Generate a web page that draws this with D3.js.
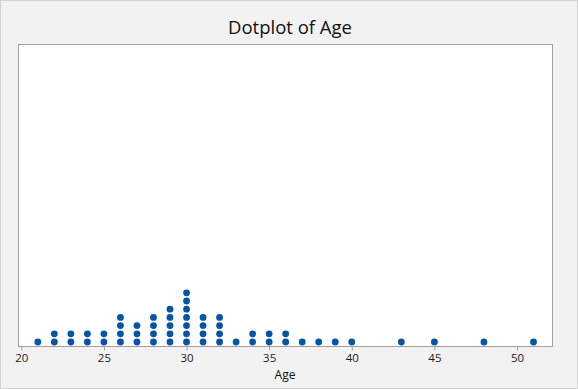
<!DOCTYPE html>
<html>
<head>
<meta charset="utf-8">
<script src="https://cdn.jsdelivr.net/npm/d3@7"></script>
<style>
  html, body { margin: 0; padding: 0; background: #f2f2f2; }
  svg { display: block; }
</style>
</head>
<body>
<div id="chart"></div>
<script>
// データ
const ages = [21, 22, 23, 24, 25, 26, 27, 28, 29, 30, 31, 32, 33, 34, 35, 36, 37, 38, 39, 40, 43, 45, 48, 51];
const counts = [1, 2, 2, 2, 2, 4, 3, 4, 5, 7, 4, 4, 1, 2, 2, 2, 1, 1, 1, 1, 1, 1, 1, 1];
const tickValues = [20, 25, 30, 35, 40, 45, 50];

// svg領域設定
const svgWidth = 578;
const svgHeight = 389;
const svg = d3.select('#chart')
  .append('svg')
  .attr('width', svgWidth)
  .attr('height', svgHeight);

svg.append('rect')
  .attr('x', 0.5).attr('y', 0.5)
  .attr('width', svgWidth - 1).attr('height', svgHeight - 1)
  .attr('fill', '#f2f2f2')
  .attr('stroke', '#d2d2d2');

// グラフ領域
const plot = { left: 18.5, right: 552.5, top: 44.5, bottom: 346.5 };

svg.append('rect')
  .attr('x', plot.left).attr('y', plot.top)
  .attr('width', plot.right - plot.left)
  .attr('height', plot.bottom - plot.top)
  .attr('fill', '#ffffff')
  .attr('stroke', '#a0a0a0');

// scale設定
const xScale = d3.scaleLinear().domain([20, 50]).range([21.3, 517]);
const yScale = d3.scaleLinear().domain([0, 1]).range([342, 333.8]);

// 点データ
const dots = [];
ages.forEach((a, i) => {
  for (let k = 0; k < counts[i]; k++) dots.push({ age: a, k: k });
});

// 軸
const xAxis = d3.axisBottom(xScale)
  .tickValues(tickValues)
  .tickSize(4)
  .tickPadding(3)
  .tickSizeOuter(0);
const gx = svg.append('g')
  .attr('transform', `translate(0,${plot.bottom})`)
  .call(xAxis);
gx.select('.domain').remove();
gx.selectAll('.tick line').attr('stroke', '#a0a0a0');
gx.selectAll('.tick text')
  .attr('fill', '#1a1a1a')
  .style('font-family', '"Open Sans", "Noto Sans", sans-serif')
  .style('font-size', '11.5px');

// 点
svg.append('g')
  .selectAll('circle')
  .data(dots)
  .enter()
  .append('circle')
  .attr('cx', d => xScale(d.age))
  .attr('cy', d => yScale(d.k))
  .attr('r', 3.4)
  .attr('fill', '#0554a5');

// タイトル・ラベル
svg.append('text')
  .attr('x', 290).attr('y', 34)
  .attr('text-anchor', 'middle')
  .style('font-family', '"Open Sans", "Noto Sans", sans-serif')
  .style('font-size', '18.5px')
  .attr('fill', '#111')
  .text('Dotplot of Age');

svg.append('text')
  .attr('x', 285).attr('y', 379)
  .attr('text-anchor', 'middle')
  .style('font-family', '"Open Sans", "Noto Sans", sans-serif')
  .style('font-size', '12px')
  .attr('fill', '#111')
  .text('Age');
</script>
</body>
</html>
